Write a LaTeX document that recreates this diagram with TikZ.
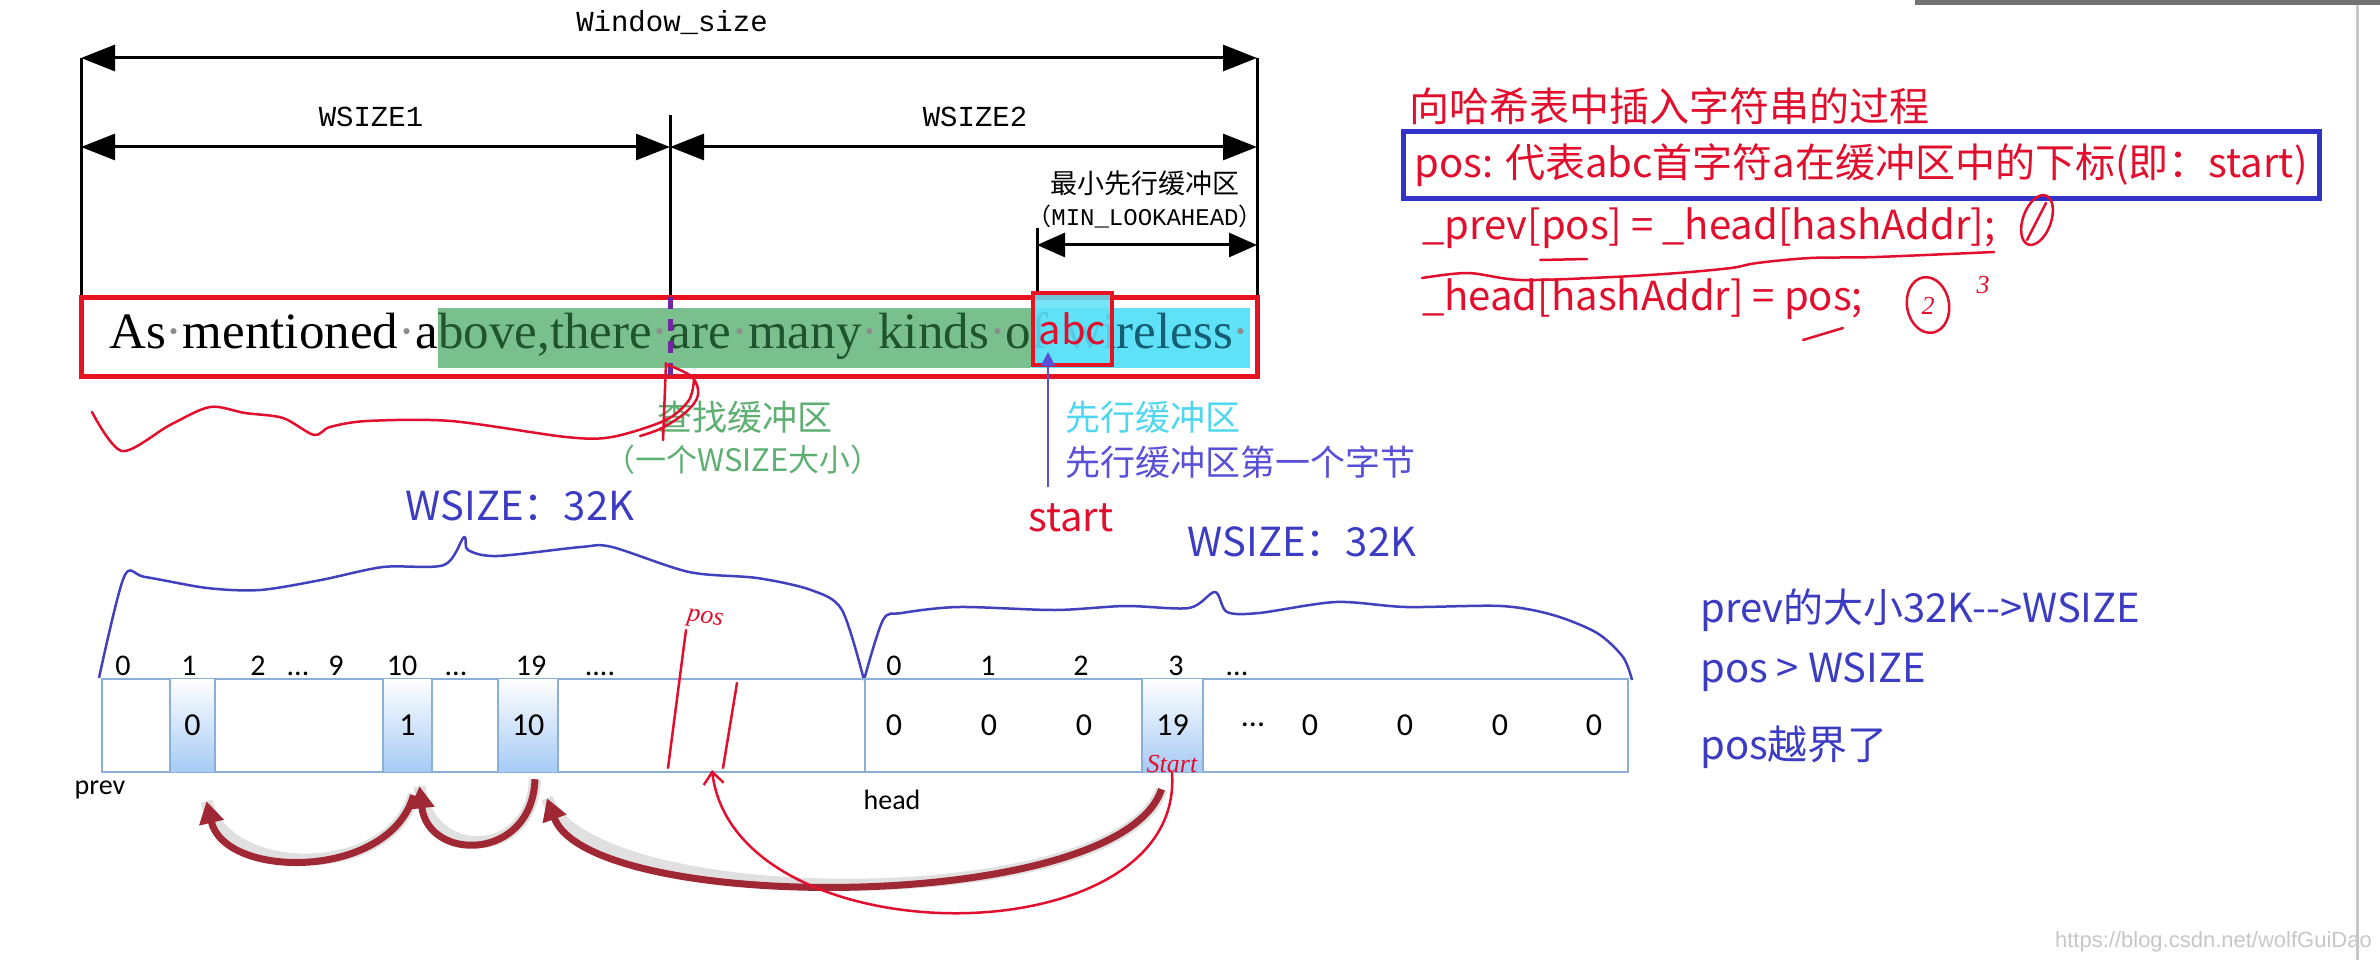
\documentclass[tikz,border=0pt]{standalone}
\usepackage{fontspec}
\setmainfont{Liberation Serif}
\newfontfamily\cjk{Noto Sans CJK SC}
\newfontfamily\winmono{Liberation Mono}
\newfontfamily\calfont{Carlito}
\newfontfamily\webfont{Liberation Sans}
\usetikzlibrary{arrows.meta,positioning,calc}
\definecolor{boxred}{RGB}{230,20,35}
\definecolor{textred}{RGB}{225,15,45}
\definecolor{posblue}{RGB}{50,50,200}
\definecolor{noteblue}{RGB}{60,60,195}
\definecolor{bracecol}{RGB}{65,65,190}
\definecolor{searchgreen}{RGB}{122,192,142}
\definecolor{searchtext}{RGB}{95,175,115}
\definecolor{greentext}{RGB}{30,85,45}
\definecolor{lookcyan}{RGB}{95,225,248}
\definecolor{looktext}{RGB}{80,215,240}
\definecolor{cyantext}{RGB}{20,95,115}
\definecolor{firstbyte}{RGB}{90,80,215}
\definecolor{cellline}{RGB}{140,175,215}
\definecolor{cellfill}{RGB}{165,202,245}
\definecolor{chainred}{RGB}{160,40,52}
\definecolor{markpurple}{RGB}{110,40,160}
\newcommand\wsp{{\color{black!45}·}}
\newcommand\mydots{...}
\newcommand\mydotsiv{....}
\tikzset{
  dimarrow/.style={{Triangle[length=34pt,width=26pt]}-{Triangle[length=34pt,width=26pt]},line width=3pt},
  dimline/.style={line width=3pt},
  dimlabel/.style={font=\winmono\fontsize{29}{32}\selectfont,inner sep=0pt},
  sentpart/.style={inner sep=0pt,anchor=base west,text height=40pt,text depth=20pt,
    font=\fontsize{51}{58}\selectfont},
  note/.style={font=\cjk\fontsize{40}{46}\selectfont,inner sep=0pt},
  smallnote/.style={font=\cjk\fontsize{35}{40}\selectfont,inner sep=0pt},
  arrbox/.style={draw=cellline,line width=2pt,inner sep=0pt,minimum height=93pt},
  hcell/.style={draw=cellline,line width=1.5pt,top color=white,bottom color=cellfill,
    minimum height=94pt,inner sep=0pt,font=\calfont\fontsize{32}{36}\selectfont},
  idx/.style={font=\calfont\fontsize{30}{34}\selectfont,anchor=base,inner sep=0pt},
  val/.style={font=\calfont\fontsize{32}{36}\selectfont,inner sep=0pt},
  chainarrow/.style={draw=chainred,line width=7pt,-{Triangle[length=22pt,width=24pt]},
    preaction={draw=black!12,line width=12pt,-}},
  brace/.style={draw=bracecol,line width=2.5pt,line join=round},
  hand/.style={draw=textred,line width=2.5pt,line cap=round,line join=round},
  handtext/.style={text=textred,font=\itshape\fontsize{26}{28}\selectfont,inner sep=0pt}
}
\begin{document}
\begin{tikzpicture}[x=1pt,y=-1pt]
  \useasboundingbox[fill=white] (0,0) rectangle (2380,960);

  % window dimensions
  \coordinate (wl) at (81,58);
  \coordinate (wr) at (1257,58);
  \coordinate (wlb) at (81,297);
  \coordinate (wrb) at (1257,297);
  \coordinate (w1l) at (81,147);
  \coordinate (w2r) at (1257,147);
  \coordinate (mid) at (670,147);
  \coordinate (midtop) at (670,115);
  \coordinate (midbox) at (670,297);
  \coordinate (midbot) at (670,376);
  \coordinate (lal) at (1037,245);
  \coordinate (lalt) at (1037,228);
  \coordinate (lar) at (1257,245);
  \node[dimlabel] (winsize) at (672,23) {Window\_size};
  \draw[dimarrow] (wl) -- (wr);
  \draw[dimline] (wl) -- (wlb);
  \draw[dimline] (wr) -- (wrb);
  \node[dimlabel] (ws1) at (371,117) {WSIZE1};
  \node[dimlabel] (ws2) at (975,117) {WSIZE2};
  \draw[dimarrow] (w1l) -- (mid);
  \draw[dimarrow] (mid) -- (w2r);
  \draw[dimline] (midtop) -- (midbox);
  \node[font=\cjk\fontsize{27}{30}\selectfont,inner sep=0pt] (minla) at (1145,183) {最小先行缓冲区};
  \node[font=\winmono\fontsize{24}{27}\selectfont,inner sep=0pt] (minlb) at (1145,217)
    {{\cjk （}MIN\_LOOKAHEAD{\cjk ）}};
  \draw[dimarrow,{Triangle[length=28pt,width=24pt]}-{Triangle[length=28pt,width=24pt]}] (lal) -- (lar);
  \draw[dimline] (lalt) -- (1037,297);

  % sliding window text
  \node[sentpart] (s1) at (109,348) {As\wsp mentioned\wsp a};
  \node[sentpart,fill=searchgreen,text=greentext] (s2) at (s1.base east)
    {bove,there\wsp are\wsp many\wsp kinds\wsp o};
  \node[sentpart,fill=lookcyan,text=cyantext] (s3) at (s2.base east) {f\wsp wi};
  \node[sentpart,fill=lookcyan,text=cyantext] (s4) at ([xshift=-0.5pt]s3.base east) {reless\wsp};
  \node[draw=boxred,line width=5pt,minimum width=1176pt,minimum height=79pt,inner sep=0pt]
    (textbox) at (669,336.5) {};
  \draw[markpurple,line width=5pt,dash pattern=on 12pt off 10pt] (midbox) -- (midbot);
  \node[draw=boxred,line width=4pt,fill=lookcyan,fill opacity=0.85,text opacity=1,
    minimum width=79pt,minimum height=72pt,inner sep=0pt,text=textred,
    font=\cjk\fontsize{40}{44}\selectfont] (abc) at (1072.5,329) {abc};

  % buffer notes
  \node[smallnote,text=searchtext] (search) at (745,417) {查找缓冲区};
  \node[font=\cjk\fontsize{31}{36}\selectfont,inner sep=0pt,text=searchtext] (searchsz) at (743,460) {（一个WSIZE大小）};
  \node[smallnote,text=looktext,anchor=west] (look) at (1065,417) {先行缓冲区};
  \node[smallnote,text=firstbyte,anchor=west] (lookfirst) at (1065,462) {先行缓冲区第一个字节};
  \node[note,text=textred] (start) at (1071,518) {start};
  \coordinate (abctip) at (1048,352);
  \coordinate (startline) at (1048,487);
  \draw[firstbyte,line width=2pt,-{Triangle[length=14pt,width=14pt]}] (startline) -- (abctip);

  % insert steps
  \node[note,text=textred,anchor=west] (title) at (1409,106) {向哈希表中插入字符串的过程};
  \node[draw=posblue,line width=5pt,minimum width=916pt,minimum height=67pt,inner sep=0pt,
    note,text=textred] (posdef) at (1861,165) {pos: 代表abc首字符a在缓冲区中的下标(即：start)};
  \node[note,text=textred,anchor=west] (step1) at (1422,228) {\_prev[pos] = \_head[hashAddr];};
  \node[note,text=textred,anchor=west] (step2) at (1422,299) {\_head[hashAddr] = pos;};

  % window sizes
  \node[note,text=noteblue] (wsa) at (520,506) {WSIZE：32K};
  \node[note,text=noteblue] (wsb) at (1302,542) {WSIZE：32K};
  \draw[brace] plot[smooth,tension=0.5] coordinates {(99,678) (124,577) (145,577) (207,588)
    (260,590) (321,580) (383,567) (444,565) (464,537) (468,550) (497,556) (581,547)
    (612,547) (689,572) (757,578) (811,590) (842,610) (864,680)};
  \draw[brace] plot[smooth,tension=0.5] coordinates {(864,680) (883,620) (902,613) (959,607)
    (1055,610) (1125,606) (1189,608) (1215,592) (1227,612) (1259,613) (1336,602)
    (1406,607) (1501,606) (1553,615) (1597,633) (1623,657) (1632,680)};

  % prev and head arrays
  \node[arrbox,minimum width=763pt] (prevarr) at (483.5,725.5) {};
  \node[arrbox,minimum width=763pt] (headarr) at (1246.5,725.5) {};
  \foreach \x/\t in {123/0,189/1,258/2,298/\mydots,336/9,402/10,456/\mydots,531/19,600/\mydotsiv,
    894/0,988/1,1081/2,1176/3,1237/\mydots}
    \node[idx] at (\x,675) {\t};
  \node[hcell,minimum width=45pt] (p0) at (192.5,725.5) {0};
  \node[hcell,minimum width=49pt] (p1) at (407.5,725.5) {1};
  \node[hcell,minimum width=60pt] (p10) at (528,725.5) {10};
  \node[hcell,minimum width=61pt] (h3) at (1172.5,725.5) {19};
  \foreach \x/\t in {894/0,989/0,1084/0,1253/\mydots,1310/0,1405/0,1500/0,1594/0}
    \node[val] at (\x,725) {\t};
  \node[font=\calfont\fontsize{28}{32}\selectfont,inner sep=0pt] (prevlbl) at (100,790) {prev};
  \node[font=\calfont\fontsize{28}{32}\selectfont,inner sep=0pt] (headlbl) at (892,800) {head};

  % hash chain
  \draw[chainarrow] ([xshift=6pt,yshift=-22pt]p1.south) .. controls (390,880) and (225,880)
    .. ([xshift=14pt,yshift=-28pt]p0.south);
  \draw[chainarrow] ([xshift=7pt,yshift=-6pt]p10.south) .. controls (532,862) and (428,862)
    .. ([xshift=12pt,yshift=-13pt]p1.south);
  \draw[chainarrow] ([xshift=-11pt,yshift=-16pt]h3.south) .. controls (1120,915) and (590,915)
    .. ([xshift=19pt,yshift=-25pt]p10.south);

  % notes on the right
  \node[note,text=noteblue,anchor=west] (n1) at (1700,610) {prev的大小32K-->WSIZE};
  \node[note,text=noteblue,anchor=west] (n2) at (1700,672) {pos > WSIZE};
  \node[note,text=noteblue,anchor=west] (n3) at (1700,747) {pos越界了};

  % hand marks
  \draw[hand] plot[smooth,tension=0.5] coordinates {(92,412) (122,451) (170,425) (210,407)
    (245,413) (283,418) (314,435) (330,427) (367,421) (451,421) (566,437) (612,437)
    (666,420) (689,400) (694,380)};
  \draw[hand] (666,363) -- (663,440);
  \draw[hand] plot[smooth,tension=0.6] coordinates {(668,365) (692,377) (698,395) (686,412)
    (662,428) (640,436)};
  \draw[hand] plot[smooth,tension=0.5] coordinates {(1422,278) (1468,273) (1521,280)
    (1613,277) (1678,273) (1731,268) (1757,263) (1810,258) (1876,257) (1994,252)};
  \draw[hand] (1540,260) -- (1587,259);
  \draw[hand] (1803,340) -- (1843,328);
  \draw[hand,rotate around={-20:(2037,220)}] (2037,220) ellipse [x radius=14, y radius=26];
  \draw[hand] (2046,203) -- (2027,240);
  \draw[hand,rotate around={10:(1928,305)}] (1928,305) ellipse [x radius=21, y radius=28];
  \node[handtext] (two) at (1928,306) {2};
  \node[handtext] (three) at (1983,285) {3};
  \node[handtext,rotate=-8] (posmark) at (705,620) {pos};
  \draw[hand] (686,630) -- (668,768);
  \draw[hand] (737,683) -- (723,768);
  \node[handtext] (startmark) at (1172,764) {Start};
  \coordinate (posarrow) at (712,770);
  \draw[hand,-{Straight Barb[length=12pt,width=20pt]}] (startmark.south)
    .. controls (1185,960) and (735,960) .. (posarrow);

  % screen edge
  \fill[black!55] (1915,0) rectangle (2380,5);
  \draw[black!22,line width=3pt] (2357,5) -- (2357,960);
  \node[font=\webfont\fontsize{22}{24}\selectfont,text=black!22,anchor=east,inner sep=0pt]
    (url) at (2372,942) {https://blog.csdn.net/wolfGuiDao};
\end{tikzpicture}
\end{document}
